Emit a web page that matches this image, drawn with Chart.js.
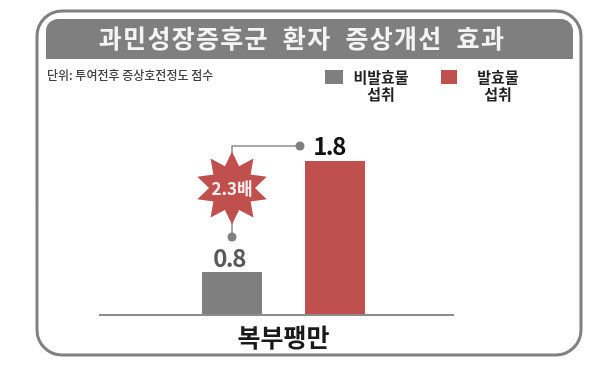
<!DOCTYPE html>
<html>
<head>
<meta charset="utf-8">
<style>
  html, body { margin: 0; padding: 0; background: #fff; }
  canvas { display: block; }
</style>
<script src="https://cdn.jsdelivr.net/npm/chart.js@4/dist/chart.umd.min.js"></script>
</head>
<body>
<canvas id="chart" width="600" height="368"></canvas>
<script>
var categories = ["복부팽만"];
var seriesNames = [["비발효물", "섭취"], ["발효물", "섭취"]];
var nonFermented = [0.8];
var fermented = [1.8];
var seriesColors = ["#7f7f7f", "#c0504d"];

var titleText = "과민성장증후군  환자  증상개선  효과";
var unitText = "단위: 투여전후 증상호전정도 점수";
var ratioText = "2.3배";

// the bars in the picture are not in proportion to 0.8 / 1.8, the axis starts above zero
var axisMin = 0.413;
var axisMax = 2.35;

var FONT = '"Noto Sans CJK KR", "Noto Sans", sans-serif';

function drawStar(ctx, x, y, outer, inner, points) {
  ctx.beginPath();
  for (var i = 0; i < points * 2; i++) {
    var r = i % 2 == 0 ? outer : inner;
    var a = -Math.PI / 2 + i * Math.PI / points;
    ctx.lineTo(x + r * Math.cos(a), y + r * Math.sin(a));
  }
  ctx.closePath();
  ctx.fill();
}

function dot(ctx, x, y) {
  ctx.beginPath();
  ctx.arc(x, y, 4.5, 0, Math.PI * 2);
  ctx.fill();
}

var decorations = {
  id: "decorations",
  beforeDraw: function (chart) {
    var ctx = chart.ctx;
    ctx.save();
    // outer frame
    ctx.strokeStyle = "#808080";
    ctx.lineWidth = 3;
    ctx.beginPath();
    ctx.roundRect(37, 11, 544, 344, 25);
    ctx.stroke();
    // title band
    ctx.fillStyle = "#7f7f7f";
    ctx.beginPath();
    ctx.roundRect(46, 19, 527, 40, [12, 12, 0, 0]);
    ctx.fill();
    ctx.fillStyle = "#f4f4f4";
    ctx.font = "bold 25px " + FONT;
    ctx.textAlign = "center";
    ctx.textBaseline = "middle";
    ctx.letterSpacing = "1.3px";
    ctx.fillText(titleText, 302, 38);
    ctx.letterSpacing = "0px";
    // unit note
    ctx.fillStyle = "#404040";
    ctx.font = "500 12px " + FONT;
    ctx.textAlign = "left";
    ctx.fillText(unitText, 47, 75);
    // legend
    var boxX = [325, 441];
    var textX = [381, 498];
    chart.data.datasets.forEach(function (ds, i) {
      ctx.fillStyle = ds.backgroundColor;
      ctx.fillRect(boxX[i], 70, i == 0 ? 18 : 16, 14);
      ctx.fillStyle = "#222";
      ctx.font = "bold 15px " + FONT;
      ctx.textAlign = "center";
      ds.label.forEach(function (line, j) {
        ctx.fillText(line, textX[i], 77 + j * 17);
      });
    });
    ctx.restore();
  },
  afterDatasetsDraw: function (chart) {
    var ctx = chart.ctx;
    var low = chart.getDatasetMeta(0).data[0];
    var high = chart.getDatasetMeta(1).data[0];
    var starY = low.y - 84;
    ctx.save();
    // baseline
    ctx.strokeStyle = "#8c8c8c";
    ctx.lineWidth = 2;
    ctx.beginPath();
    ctx.moveTo(99, chart.chartArea.bottom);
    ctx.lineTo(454, chart.chartArea.bottom);
    ctx.stroke();
    // connector from the low bar up to the high bar
    ctx.lineWidth = 1.5;
    ctx.beginPath();
    ctx.moveTo(low.x, low.y - 35);
    ctx.lineTo(low.x, high.y - 15);
    ctx.lineTo(high.x - 35, high.y - 15);
    ctx.stroke();
    ctx.fillStyle = "#808080";
    dot(ctx, low.x, low.y - 35);
    dot(ctx, high.x - 35, high.y - 15);
    // star with the ratio
    ctx.fillStyle = seriesColors[1];
    drawStar(ctx, low.x, starY, 36.5, 23, 10);
    ctx.fillStyle = "#f6eeee";
    ctx.font = "bold 17px " + FONT;
    ctx.textAlign = "center";
    ctx.textBaseline = "middle";
    ctx.fillText(ratioText, low.x, starY + 1);
    // value labels
    ctx.font = "bold 24px " + FONT;
    ctx.letterSpacing = "-1.5px";
    ctx.fillStyle = "#595959";
    ctx.fillText(nonFermented[0].toFixed(1), low.x - 3, low.y - 14);
    ctx.fillStyle = "#111";
    ctx.fillText(fermented[0].toFixed(1), high.x - 6, high.y - 15);
    ctx.restore();
  }
};

var chart = new Chart(document.getElementById("chart").getContext("2d"), {
  type: "bar",
  data: {
    labels: categories,
    datasets: [
      { label: seriesNames[0], data: nonFermented, backgroundColor: seriesColors[0] },
      { label: seriesNames[1], data: fermented, backgroundColor: seriesColors[1] }
    ]
  },
  options: {
    responsive: false,
    animation: false,
    layout: { padding: { left: 113, right: 146, top: 100, bottom: 0 } },
    datasets: { bar: { categoryPercentage: 0.604, barPercentage: 0.5825 } },
    plugins: {
      legend: { display: false },
      title: { display: false },
      tooltip: { enabled: false }
    },
    scales: {
      x: {
        grid: { display: false, drawTicks: false },
        border: { display: false },
        ticks: {
          padding: 7,
          color: "#1a1a1a",
          font: { family: FONT, size: 25, weight: "bold" }
        },
        afterFit: function (axis) { axis.height = 53; }
      },
      y: { display: false, min: axisMin, max: axisMax }
    }
  },
  plugins: [decorations]
});
</script>
</body>
</html>
